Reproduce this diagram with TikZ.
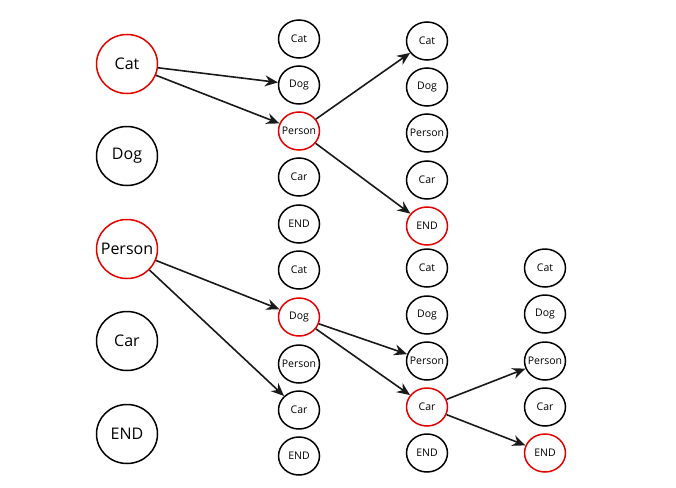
\documentclass[tikz,border=0pt]{standalone}
\usepackage{fontspec}
\setmainfont{Open Sans}
\usetikzlibrary{arrows.meta,shapes.geometric}
\begin{document}
\begin{tikzpicture}[x=1pt,y=-1pt,
 big/.style={ellipse,draw=black,line width=1.5pt,minimum width=61pt,minimum height=59pt,inner sep=0pt,font=\fontsize{16}{16}\selectfont},
 sm/.style={ellipse,draw=black,line width=1.5pt,minimum width=41pt,minimum height=38pt,inner sep=0pt,font=\fontsize{10.5}{10.5}\selectfont},
 hl/.style={draw=red!90!black},
 arr/.style={line width=1.6pt,black!90,-{Stealth[length=13pt,width=11pt]}}]
\useasboundingbox (0,0) rectangle (676,487);
\node[big,hl] (a1) at (127,64) {Cat};
\node[big] (a2) at (127,156) {Dog};
\node[big,hl] (a3) at (127,249) {\makebox[0pt]{Person}};
\node[big] (a4) at (127,341) {Car};
\node[big] (a5) at (127,434) {END};
\foreach \n/\y/\t/\c in {1/39/Cat/black,2/85/Dog/black,3/131/Person/red!90!black,4/177/Car/black,5/224/END/black,6/270/Cat/black,7/317/Dog/red!90!black,8/364/Person/black,9/410/Car/black,10/456/END/black}
  \node[sm,draw=\c] (b\n) at (299,\y) {\makebox[0pt]{\t}};
\foreach \n/\y/\t/\c in {1/41/Cat/black,2/87/Dog/black,3/133/Person/black,4/180/Car/black,5/226/END/red!90!black,6/268/Cat/black,7/315/Dog/black,8/361/Person/black,9/407/Car/red!90!black,10/453/END/black}
  \node[sm,draw=\c] (c\n) at (427,\y) {\makebox[0pt]{\t}};
\foreach \n/\y/\t/\c in {1/268/Cat/black,2/314/Dog/black,3/361/Person/black,4/407/Car/black,5/453/END/red!90!black}
  \node[sm,draw=\c] (d\n) at (545,\y) {\makebox[0pt]{\t}};
\draw[arr] (a1) -- (b2);
\draw[arr] (a1) -- (b3);
\draw[arr] (b3) -- (c1);
\draw[arr] (b3) -- (c5);
\draw[arr] (a3) -- (b7);
\draw[arr] (a3) -- (b9);
\draw[arr] (b7) -- (c8);
\draw[arr] (b7) -- (c9);
\draw[arr] (c9) -- (d3);
\draw[arr] (c9) -- (d5);
\end{tikzpicture}
\end{document}
